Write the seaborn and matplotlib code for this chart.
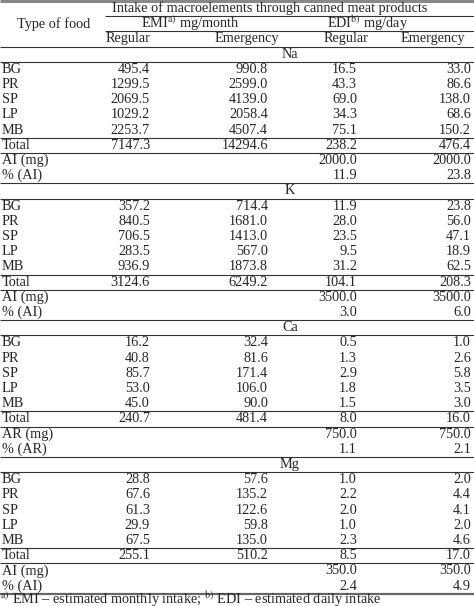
import matplotlib
matplotlib.use("Agg")
import matplotlib.pyplot as plt
import seaborn as sns

sns.set_theme(style="white")
plt.rcParams['font.family'] = ['Liberation Serif', 'DejaVu Serif']
plt.rcParams['mathtext.fontset'] = 'stix'

foods = ["BG", "PR", "SP", "LP", "MB"]
elements = ["Na", "K", "Ca", "Mg"]
ref_labels = ["AI", "AI", "AR", "AI"]

emi_regular = {
    "Na": [495.4, 1299.5, 2069.5, 1029.2, 2253.7],
    "K": [357.2, 840.5, 706.5, 283.5, 936.9],
    "Ca": [16.2, 40.8, 85.7, 53.0, 45.0],
    "Mg": [28.8, 67.6, 61.3, 29.9, 67.5],
}
emi_emergency = {
    "Na": [990.8, 2599.0, 4139.0, 2058.4, 4507.4],
    "K": [714.4, 1681.0, 1413.0, 567.0, 1873.8],
    "Ca": [32.4, 81.6, 171.4, 106.0, 90.0],
    "Mg": [57.6, 135.2, 122.6, 59.8, 135.0],
}
edi_regular = {
    "Na": [16.5, 43.3, 69.0, 34.3, 75.1],
    "K": [11.9, 28.0, 23.5, 9.5, 31.2],
    "Ca": [0.5, 1.3, 2.9, 1.8, 1.5],
    "Mg": [1.0, 2.2, 2.0, 1.0, 2.3],
}
edi_emergency = {
    "Na": [33.0, 86.6, 138.0, 68.6, 150.2],
    "K": [23.8, 56.0, 47.1, 18.9, 62.5],
    "Ca": [1.0, 2.6, 5.8, 3.5, 3.0],
    "Mg": [2.0, 4.4, 4.1, 2.0, 4.6],
}
totals = {
    "Na": [7147.3, 14294.6, 238.2, 476.4],
    "K": [3124.6, 6249.2, 104.1, 208.3],
    "Ca": [240.7, 481.4, 8.0, 16.0],
    "Mg": [255.1, 510.2, 8.5, 17.0],
}
ref_values = {"Na": [2000.0, 2000.0], "K": [3500.0, 3500.0],
              "Ca": [750.0, 750.0], "Mg": [350.0, 350.0]}
pct_values = {"Na": [11.9, 23.8], "K": [3.0, 6.0],
              "Ca": [1.1, 2.1], "Mg": [2.4, 4.9]}

fig = plt.figure(figsize=(4.74, 6.06), dpi=100)
ax = fig.add_axes([0, 0, 1, 1])
ax.set_xlim(0, 474)
ax.set_ylim(606, 0)
ax.axis("off")

fs = 10.3
rh = 15.2
y0 = 8.5
col_r = [150, 268, 357, 471]

def hline(y, x0=0, x1=474, lw=0.8, c="#333333"):
    ax.plot([x0, x1], [y, y], color=c, lw=lw, solid_capstyle="butt")

def row_y(i):
    return y0 + i * rh

hline(1.2, lw=2.2, c="#888888")
ax.text(270, row_y(0), "Intake of macroelements through canned meat products", ha="center", va="center", fontsize=fs)
hline(row_y(0.5), 105, 474)
ax.text(54, row_y(1), "Type of food", ha="center", va="center", fontsize=fs)
ax.text(190, row_y(1), r"EMI$^{\mathrm{a)}}$ mg/month", ha="center", va="center", fontsize=fs)
ax.text(368, row_y(1), r"EDI$^{\mathrm{b)}}$ mg/day", ha="center", va="center", fontsize=fs)
hline(row_y(1.5), 105, 474)
for xc, lab in zip([128, 247, 346, 433], ["Regular", "Emergency", "Regular", "Emergency"]):
    ax.text(xc, row_y(2), lab, ha="center", va="center", fontsize=fs)
hline(row_y(2.5))

r = 3
for el, ref in zip(elements, ref_labels):
    ax.text(290, row_y(r), el, ha="center", va="center", fontsize=fs)
    hline(row_y(r + 0.5))
    r += 1
    for j, f in enumerate(foods):
        ax.text(2, row_y(r), f, ha="left", va="center", fontsize=fs)
        vals = [emi_regular[el][j], emi_emergency[el][j], edi_regular[el][j], edi_emergency[el][j]]
        for xr, v in zip(col_r, vals):
            ax.text(xr, row_y(r), f"{v:.1f}", ha="right", va="center", fontsize=fs)
        r += 1
    hline(row_y(r - 0.5))
    ax.text(2, row_y(r), "Total", ha="left", va="center", fontsize=fs)
    for xr, v in zip(col_r, totals[el]):
        ax.text(xr, row_y(r), f"{v:.1f}", ha="right", va="center", fontsize=fs)
    hline(row_y(r + 0.5))
    r += 1
    ax.text(2, row_y(r), f"{ref} (mg)", ha="left", va="center", fontsize=fs)
    for xr, v in zip(col_r[2:], ref_values[el]):
        ax.text(xr, row_y(r), f"{v:.1f}", ha="right", va="center", fontsize=fs)
    r += 1
    ax.text(2, row_y(r), f"% ({ref})", ha="left", va="center", fontsize=fs)
    for xr, v in zip(col_r[2:], pct_values[el]):
        ax.text(xr, row_y(r), f"{v:.1f}", ha="right", va="center", fontsize=fs)
    last = el == "Mg"
    hline(row_y(r + 0.5), lw=1.6 if last else 0.8, c="#666666" if last else "#333333")
    r += 1

ax.text(0, 599, r"$^{\mathrm{a)}}$ EMI – estimated monthly intake; $^{\mathrm{b)}}$ EDI – estimated daily intake",
        ha="left", va="center", fontsize=fs)

fig.savefig("out.png", dpi=100)
